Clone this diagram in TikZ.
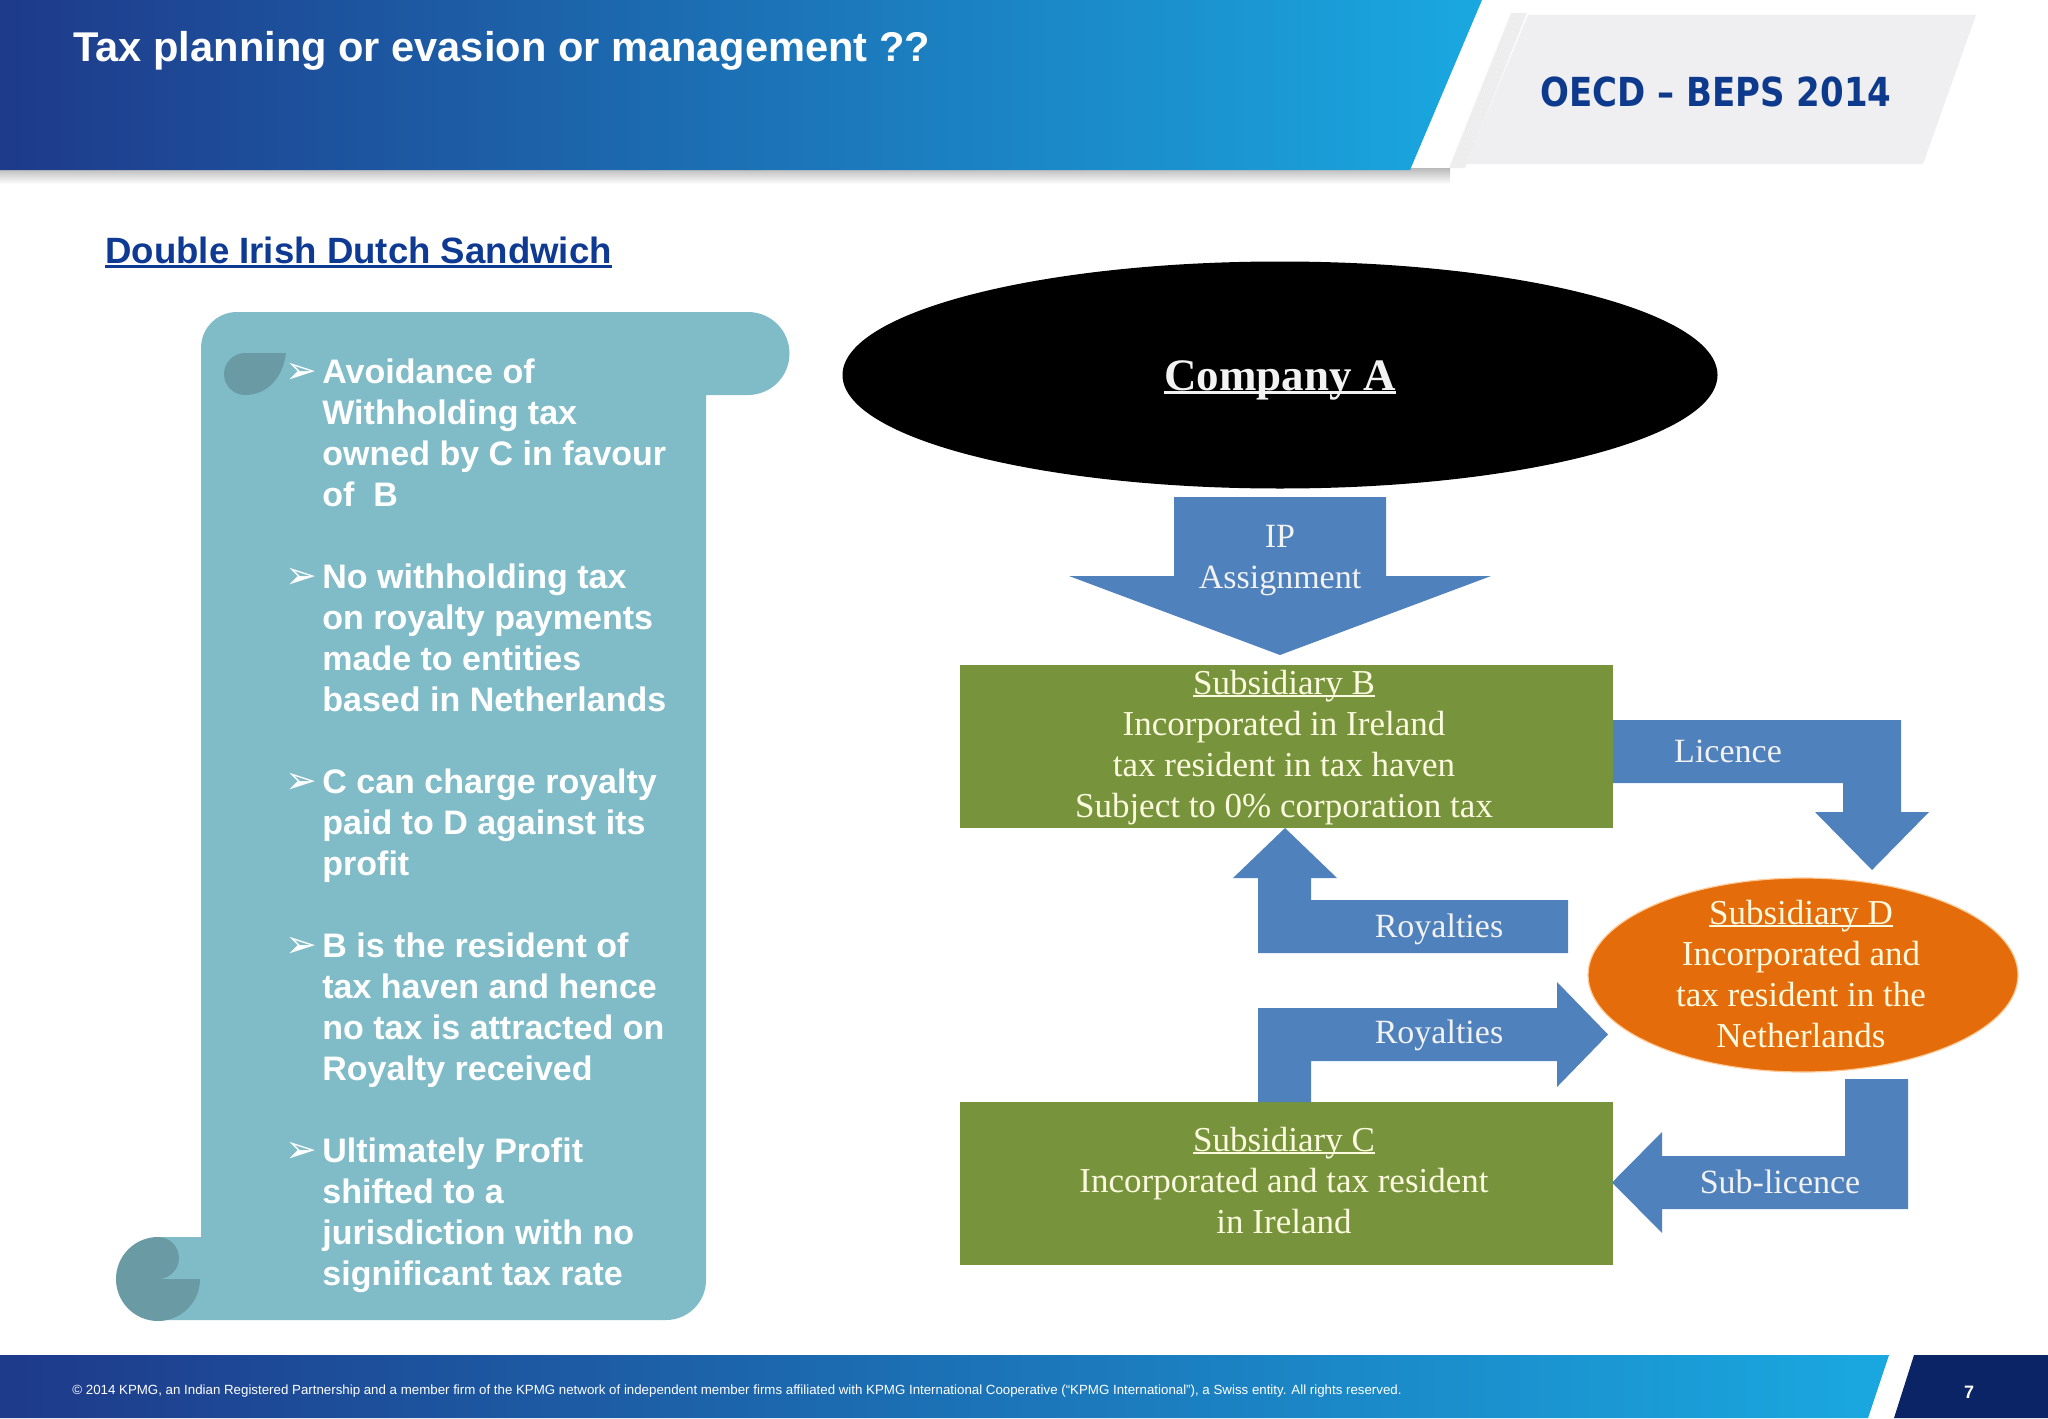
\documentclass[tikz,border=0pt]{standalone}
\usepackage{fontspec}
\setmainfont{Liberation Serif}
\newfontfamily\arial{Liberation Sans}
\newfontfamily\dvs{DejaVu Sans}
\usetikzlibrary{shapes.geometric}
\definecolor{hdark}{HTML}{1E3A8A}
\definecolor{hmid}{HTML}{1C4E9E}
\definecolor{hlight}{HTML}{1AA8E0}
\definecolor{panelgrey}{HTML}{EFEFF1}
\definecolor{oecdblue}{HTML}{0D3A8C}
\definecolor{titleblue}{HTML}{0E3A93}
\definecolor{teal}{HTML}{80BCC8}
\definecolor{darkteal}{HTML}{6A9BA5}
\definecolor{arrblue}{HTML}{4F81BD}
\definecolor{sgreen}{HTML}{77933C}
\definecolor{cream}{HTML}{FBFADF}
\definecolor{lightw}{HTML}{F2F2F2}
\definecolor{dorange}{HTML}{E46C0A}
\definecolor{footnavy}{HTML}{0A2466}
\newsavebox\ulbox
\newcommand\ulx[3]{\sbox\ulbox{#3}\rlap{\rule[-#1]{\wd\ulbox}{#2}}\usebox\ulbox}
\tikzset{
  arrowshape/.style={fill=arrblue},
  greenbox/.style={fill=sgreen, minimum width=326.5pt, minimum height=81.5pt, inner sep=0pt},
  boxtext/.style={font=\fontsize{17.5}{20.5}\selectfont, text=cream, align=center, anchor=base, inner sep=0pt},
  arrlabel/.style={font=\fontsize{17}{20.5}\selectfont, text=lightw, align=center, anchor=base, inner sep=0pt},
  bullettext/.style={font=\arial\bfseries\fontsize{17}{20.5}\selectfont, text=white, align=left, anchor=base west, inner sep=0pt},
  bulletmark/.style={font=\dvs\fontsize{19}{19}\selectfont, text=white, anchor=base west, inner sep=0pt},
}
\begin{document}
\begin{tikzpicture}[x=0.5pt,y=-0.5pt]
\useasboundingbox (0,0) rectangle (2048,1418);
\fill[white] (0,0) rectangle (2048,1418);

% ---------- header ----------
\shade[top color=gray!55, bottom color=white] (0,168) rectangle (1450,184);
\shade[left color=hdark, middle color=hmid, right color=hlight]
  (0,0) -- (1482,0) -- (1410,170) -- (0,170) -- cycle;
\foreach \d in {2,4,...,16}
  \draw[line width=1pt, black, opacity=0.06] (1528-\d,13) -- (1466-\d,168);
\fill[panelgrey] (1528,15) -- (1976,15) -- (1923,164) -- (1466,164) -- cycle;
\node[anchor=base west, inner sep=0pt, text=white, font=\arial\bfseries\fontsize{20.8}{24}\selectfont]
  (title) at (73,62) {Tax planning or evasion or management ??};
\node[anchor=base west, inner sep=0pt, text=oecdblue, font=\dvs\bfseries\fontsize{20}{24}\selectfont]
  (oecd) at (1540,106) {\scalebox{0.85}[1]{OECD – BEPS 2014}};

\node[anchor=base west, inner sep=0pt, text=titleblue, font=\arial\bfseries\fontsize{18.3}{22}\selectfont]
  (dids) at (105,263) {\ulx{0.15em}{0.09em}{Double Irish Dutch Sandwich}};

% ---------- scroll ----------
\fill[teal] (201,1237) -- (201,348) arc[start angle=180, end angle=270, radius=36]
  -- (748,312) arc[start angle=270, end angle=450, radius=41.5]
  -- (706,395) -- (706,1280) arc[start angle=0, end angle=90, radius=40]
  -- (158,1320) -- (158,1237) -- cycle;
\fill[darkteal] (286,353) -- (245,353) arc[start angle=270, end angle=90, radius=21]
  .. controls (268,395) and (283,377) .. (286,353) -- cycle;
\fill[darkteal] (158,1237) arc[start angle=270, end angle=90, radius=42]
  arc[start angle=90, end angle=0, radius=42] -- (158,1279)
  arc[start angle=90, end angle=-90, radius=21] -- cycle;

\foreach \yy/\nm in {383/ba, 588/bb, 793/bc, 957/bd, 1162/be}
  \node[bulletmark] (\nm) at (285,\yy) {➢};
% anchor=base of a multi-line node is the baseline of its last line
\node[bullettext] (t1) at (322,506) {Avoidance of\\Withholding tax\\owned by C in favour\\of\ \ B};
\node[bullettext] (t2) at (322,711) {No withholding tax\\on royalty payments\\made to entities\\based in Netherlands};
\node[bullettext] (t3) at (322,875) {C can charge royalty\\paid to D against its\\profit};
\node[bullettext] (t4) at (322,1080) {B is the resident of\\tax haven and hence\\no tax is attracted on\\Royalty received};
\node[bullettext] (t5) at (322,1285) {Ultimately Profit\\shifted to a\\jurisdiction with no\\significant tax rate};

% ---------- diagram ----------
\node[ellipse, fill=black, minimum width=437.5pt, minimum height=113.5pt, inner sep=0pt] (compA) at (1280,375) {};
\node[anchor=base, inner sep=0pt, text=lightw, font=\bfseries\fontsize{22.5}{26}\selectfont]
  (compAt) at (1280,390) {\ulx{0.08em}{0.05em}{Company A}};

\node[greenbox] (subB) at (1286.5,746.5) {};
\node[greenbox] (subC) at (1286.5,1183.5) {};
\node[ellipse, fill=dorange, draw=orange!40!white, line width=0.6pt, minimum width=215pt, minimum height=97pt, inner sep=0pt] (subD) at (1803,975) {};

% block arrows
\fill[arrowshape] (1174,497) -- (1386,497) -- (1386,576) -- (1491,576) -- (1280,655)
  -- (1069,576) -- (1174,576) -- cycle;
\fill[arrowshape] (1613,720) -- (1901,720) -- (1901,812) -- (1929,812) -- (1872,870)
  -- (1815,812) -- (1843,812) -- (1843,783) -- (1613,783) -- cycle;
\fill[arrowshape] (1568,900) -- (1568,953) -- (1258,953) -- (1258,878) -- (1233,878)
  -- (1285,828) -- (1337,878) -- (1311,878) -- (1311,900) -- cycle;
\fill[arrowshape] (1258,1102) -- (1258,1008) -- (1557,1008) -- (1557,982) -- (1608,1034.5)
  -- (1557,1087) -- (1557,1061) -- (1311,1061) -- (1311,1102) -- cycle;
\fill[arrowshape] (1845,1079) -- (1908,1079) -- (1908,1209) -- (1662,1209) -- (1662,1233)
  -- (1612,1182.5) -- (1662,1132) -- (1662,1156) -- (1845,1156) -- cycle;

\node[arrlabel] (ipl) at (1280,588) {IP\\Assignment};
\node[arrlabel] (licl) at (1728,762) {Licence};
\node[arrlabel] (roy1) at (1439,937) {Royalties};
\node[arrlabel] (roy2) at (1439,1043) {Royalties};
\node[arrlabel] (subl) at (1780,1193) {Sub-licence};

\node[boxtext] (subBt) at (1284,817) {\ulx{0.09em}{0.05em}{Subsidiary B}\\Incorporated in Ireland\\tax resident in tax haven\\Subject to 0\% corporation tax};
\node[boxtext] (subCt) at (1284,1233) {\ulx{0.09em}{0.05em}{Subsidiary C}\\Incorporated and tax resident\\in Ireland};
\node[boxtext] (subDt) at (1801,1047) {\ulx{0.09em}{0.05em}{Subsidiary D}\\Incorporated and\\tax resident in the\\Netherlands};

% ---------- footer ----------
\shade[left color=hdark, middle color=hmid, right color=hlight]
  (0,1355) -- (1889,1355) -- (1868,1418) -- (0,1418) -- cycle;
\fill[footnavy] (1914,1355) -- (2048,1355) -- (2048,1418) -- (1894,1418) -- cycle;
\node[anchor=west, inner sep=0pt, text=white, font=\arial\fontsize{6.65}{7.5}\selectfont] (foot) at (72,1391)
  {© 2014 KPMG, an Indian Registered Partnership and a member firm of the KPMG network of independent member firms affiliated with KPMG International Cooperative (“KPMG International”), a Swiss entity. All rights reserved.};
\node[text=white, inner sep=0pt, font=\arial\bfseries\fontsize{9}{10}\selectfont] (pg) at (1969,1392) {7};
\end{tikzpicture}
\end{document}
